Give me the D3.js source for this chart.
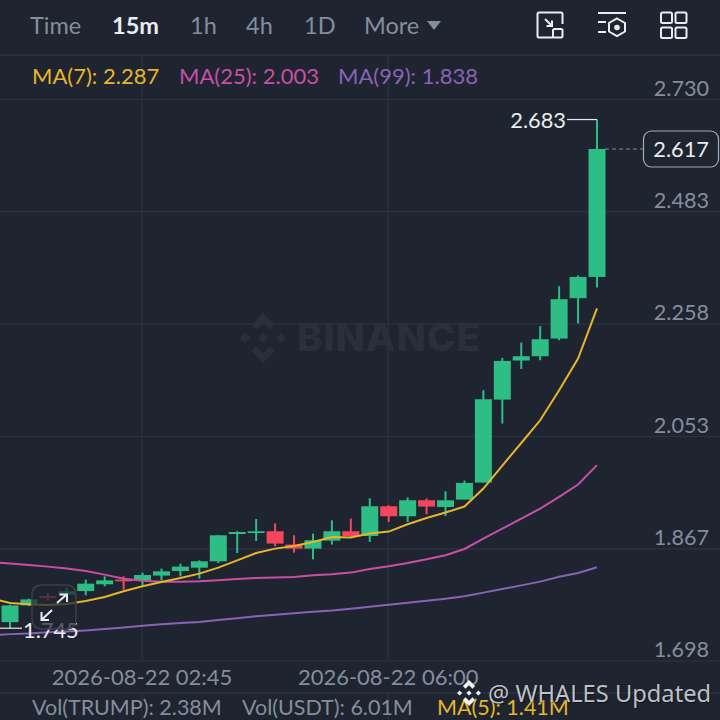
<!DOCTYPE html>
<html><head><meta charset="utf-8">
<script src="https://cdn.jsdelivr.net/npm/d3@7"></script>
<style>html,body{margin:0;padding:0;background:#1e2530}svg{display:block}</style>
</head><body><svg id="c" width="720" height="720"></svg>
<script>
const open_ = [1.754,1.779,1.7931,1.7952,1.8007,1.8110,1.8182,1.8171,1.8244,1.8315,1.8367,1.8466,1.8897,1.8913,1.8941,1.8729,1.8665,1.8792,1.8941,1.8865,1.9346,1.9183,1.9444,1.9334,1.9456,1.9738,2.1172,2.1883,2.1963,2.2294,2.3068,2.3487];
const close_ = [1.779,1.788,1.7901,1.8003,1.8120,1.8171,1.8156,1.8253,1.8310,1.8383,1.8466,1.8877,1.8929,1.8941,1.8745,1.8665,1.8797,1.8941,1.8865,1.9346,1.9183,1.9444,1.9341,1.9444,1.9731,2.1178,2.1876,2.1963,2.2281,2.3048,2.3487,2.617];
const high_ = [1.780,1.789,1.7977,1.8064,1.8182,1.8233,1.8233,1.8290,1.8352,1.8430,1.8481,1.8880,1.8941,1.9139,1.9069,1.8877,1.8904,1.9118,1.9145,1.9477,1.9362,1.9489,1.9472,1.9593,1.9771,2.1340,2.1931,2.2219,2.2528,2.3303,2.3515,2.683];
const low_ = [1.745,1.778,1.7866,1.7911,1.7942,1.8079,1.8029,1.8094,1.8171,1.8233,1.8197,1.8439,1.8596,1.8786,1.8702,1.8602,1.8497,1.8729,1.8850,1.8770,1.9090,1.9090,1.9215,1.9188,1.9456,1.9738,2.0747,2.1728,2.1889,2.2262,2.2579,2.3277];
// moving averages: first value belongs to the candle just off the left edge
const ma7 = [1.7896,1.7825,1.7806,1.7795,1.7810,1.7855,1.7916,1.8003,1.8079,1.8145,1.8206,1.8274,1.8367,1.8481,1.8596,1.8665,1.8706,1.8770,1.8850,1.8840,1.8904,1.8936,1.9053,1.9155,1.9243,1.9341,1.9638,2.0024,2.0409,2.0805,2.1340,2.1920,2.287];
const ma25 = [1.8458,1.8430,1.8408,1.8383,1.8352,1.8315,1.8259,1.8197,1.8166,1.8151,1.8151,1.8156,1.8171,1.8191,1.8206,1.8213,1.8222,1.8248,1.8264,1.8290,1.8346,1.8388,1.8439,1.8497,1.8560,1.8659,1.8824,1.8984,1.9145,1.9308,1.9499,1.9704,2.003];
const ma99 = [1.7349,1.7363,1.7374,1.7389,1.7403,1.7418,1.7437,1.7462,1.7487,1.7507,1.7526,1.7541,1.7571,1.7596,1.7626,1.7651,1.7671,1.7696,1.7715,1.7741,1.7771,1.7801,1.7831,1.7861,1.7892,1.7927,1.7983,1.8038,1.8094,1.8151,1.8227,1.8284,1.8372];
const priceTicks = [2.730,2.483,2.258,2.053,1.867,1.698];
const timeTickIdx = [7,20];
const timeTickLabels = ["2026-08-22 02:45","2026-08-22 06:00"];
const tabs = ["Time","15m","1h","4h","1D","More"];
const tabX = [30,112,190,246,304,364];
const maLegend = [["MA(7): 2.287",32,"#e8b52a"],["MA(25): 2.003",179,"#c94fa6"],["MA(99): 1.838",338,"#8a63b5"]];
const volLegend = [["Vol(TRUMP): 2.38M",32,"#848e9c"],["Vol(USDT): 6.01M",242,"#848e9c"],["MA(5): 1.41M",437,"#e8b52a"]];

const FONT = "Lato, Inter, sans-serif";
const GRID = "#2d333e", GREY = "#848e9c", UP = "#2ebd85", DOWN = "#f6465d";
const svg = d3.select("#c");
svg.append("rect").attr("width",720).attr("height",720).attr("fill","#1e2530");
const y = d3.scaleLog().domain([1.698,2.730]).range([660.5,99]);
const x = d3.scaleLinear().domain([0,31]).range([10,597]);
const defs = svg.append("defs");
defs.append("clipPath").attr("id","plot").append("rect").attr("x",0).attr("y",56).attr("width",720).attr("height",604);

// grid + axes
const gY = svg.append("g").attr("transform","translate(720,0)")
  .call(d3.axisLeft(y).tickValues(priceTicks).tickSize(720).tickFormat(""));
gY.select(".domain").remove();
gY.selectAll("line").attr("stroke",GRID).attr("stroke-width",1.2);
svg.append("g").selectAll("text").data(priceTicks).join("text")
  .attr("x",709).attr("y",d=>y(d)-3.5).attr("text-anchor","end")
  .attr("font-family",FONT).attr("font-size",21.6).attr("fill",GREY).text(d=>d.toFixed(3));
[55,693].forEach(v=>svg.append("line").attr("x1",0).attr("x2",720).attr("y1",v).attr("y2",v).attr("stroke",GRID).attr("stroke-width",1.5));
const vg = svg.append("g");
timeTickIdx.forEach(i=>{
  vg.append("line").attr("x1",x(i)-.5).attr("x2",x(i)-.5).attr("y1",56).attr("y2",660).attr("stroke",GRID).attr("stroke-width",1.2);
  vg.append("line").attr("x1",x(i)-.5).attr("x2",x(i)-.5).attr("y1",693).attr("y2",720).attr("stroke",GRID).attr("stroke-width",1.2);
});
svg.append("g").selectAll("text").data(timeTickIdx).join("text")
  .attr("x",d=>x(d)-.5).attr("y",685).attr("text-anchor","middle")
  .attr("font-family",FONT).attr("font-size",22).attr("fill",GREY)
  .text((d,i)=>timeTickLabels[i]);

// Binance watermark
function logo(g,cx,cy,r,fill){
  const P=[[[0,-1],[.47,-.53],[.27,-.33],[0,-.6],[-.27,-.33],[-.47,-.53]],
           [[0,1],[.47,.53],[.27,.33],[0,.6],[-.27,.33],[-.47,.53]],
           [[0,-.2],[.2,0],[0,.2],[-.2,0]],
           [[-.72,-.2],[-.52,0],[-.72,.2],[-.92,0]],
           [[.72,-.2],[.92,0],[.72,.2],[.52,0]]];
  g.selectAll(null).data(P).join("polygon")
    .attr("points",d=>d.map(p=>[cx+p[0]*r,cy+p[1]*r].join(",")).join(" ")).attr("fill",fill);
}
const wm = svg.append("g");
logo(wm,263,338,25,"#2a303b");
wm.append("text").attr("x",297).attr("y",351).attr("font-family","Inter, sans-serif").attr("font-weight",800)
  .attr("font-size",38).attr("letter-spacing",1.3).attr("fill","#2a303b").text("BINANCE");

// candles
const idx = d3.range(open_.length);
const plot = svg.append("g").attr("clip-path","url(#plot)");
const col = i=>close_[i]>=open_[i]?UP:DOWN;
plot.append("g").selectAll("line").data(idx).join("line")
  .attr("x1",i=>x(i)).attr("x2",i=>x(i)).attr("y1",i=>y(high_[i])).attr("y2",i=>y(low_[i]))
  .attr("stroke",col).attr("stroke-width",2);
plot.append("g").selectAll("rect").data(idx).join("rect")
  .attr("x",i=>x(i)-8.5).attr("width",17)
  .attr("y",i=>y(Math.max(open_[i],close_[i])))
  .attr("height",i=>Math.max(1.6,Math.abs(y(open_[i])-y(close_[i]))))
  .attr("fill",col);

// MA lines
const maLine = d3.line().x((d,i)=>x(i-1)).y(d=>y(d));
[[ma99,"#8a63b5"],[ma25,"#c94fa6"],[ma7,"#e8b52a"]].forEach(([s,c])=>{
  plot.append("path").attr("d",maLine(s)).attr("fill","none").attr("stroke",c).attr("stroke-width",2);
});

// tabs
svg.append("g").selectAll("text").data(tabs).join("text")
  .attr("x",(d,i)=>tabX[i]).attr("y",33.5).attr("font-family",FONT).attr("font-size",23.5)
  .attr("font-weight",(d,i)=>i==1?700:400).attr("fill",(d,i)=>i==1?"#eaecef":GREY).text(d=>d);
svg.append("polygon").attr("points","427,21 441,21 434,30").attr("fill",GREY);

// legends
svg.append("g").selectAll("text").data(maLegend).join("text")
  .attr("x",d=>d[1]).attr("y",83.5).attr("font-family",FONT).attr("font-size",22).attr("fill",d=>d[2]).text(d=>d[0]);
svg.append("g").selectAll("text").data(volLegend).join("text")
  .attr("x",d=>d[1]).attr("y",714.5).attr("font-family",FONT).attr("font-size",21.5).attr("fill",d=>d[2]).text(d=>d[0]);

// toolbar icons
const ic = svg.append("g").attr("fill","none").attr("stroke","#eaecef").attr("stroke-width",2);
ic.append("path").attr("d","M553 37.5H539a1.5 1.5 0 0 1-1.5-1.5V14a1.5 1.5 0 0 1 1.5-1.5H561a1.5 1.5 0 0 1 1.5 1.5V24");
ic.append("rect").attr("x",553).attr("y",29).attr("width",9.5).attr("height",8.5).attr("rx",1.5);
ic.append("path").attr("d","M545 19L552 26M552 20.5V26H546.5");
ic.append("path").attr("d","M598 13H626M598 22H606M598 32H606");
ic.append("path").attr("d","M617 18.5L625 23V31.5L617 36L609 31.5V23Z");
ic.append("circle").attr("cx",617).attr("cy",27.5).attr("r",1.8).attr("fill","#eaecef");
[[661,12.5],[675.5,12.5],[661,27.5],[675.5,27.5]].forEach(p=>
  ic.append("rect").attr("x",p[0]).attr("y",p[1]).attr("width",11).attr("height",10.5).attr("rx",1.5));

// price annotations
const ann = svg.append("g").attr("font-family",FONT).attr("font-size",21.8).attr("fill","#eaecef");
const maxI = 31, minI = 0;
ann.append("line").attr("x1",567).attr("x2",x(maxI)).attr("y1",y(high_[maxI])).attr("y2",y(high_[maxI])).attr("stroke","#eaecef").attr("stroke-width",1.2);
ann.append("text").attr("x",566).attr("y",y(high_[maxI])+8).attr("text-anchor","end").text(high_[maxI].toFixed(3));
ann.append("line").attr("x1",0).attr("x2",22).attr("y1",y(low_[minI])).attr("y2",y(low_[minI])).attr("stroke","#eaecef").attr("stroke-width",1.2);
ann.append("text").attr("x",23).attr("y",y(low_[minI])+9.5).text(low_[minI].toFixed(3));
ann.append("line").attr("x1",605).attr("x2",643).attr("y1",y(close_[maxI])).attr("y2",y(close_[maxI])).attr("stroke",GREY).attr("stroke-width",1.2).attr("stroke-dasharray","4 3");
ann.append("rect").attr("x",643.5).attr("y",131).attr("width",75).attr("height",36).attr("rx",8).attr("fill","#1e2530").attr("stroke","#a6acb5").attr("stroke-width",1.2);
ann.append("text").attr("x",709).attr("y",y(close_[maxI])+8).attr("text-anchor","end").text(close_[maxI].toFixed(3));

// expand button
const btn = svg.append("g");
btn.append("rect").attr("x",32).attr("y",585).attr("width",44).attr("height",44).attr("rx",9)
  .attr("fill","#1e2530").attr("fill-opacity",.72).attr("stroke","#3a404c").attr("stroke-width",1.5);
btn.append("path").attr("d","M57 603L66 595M59.5 594.5H67V602M52 610L42.5 619M41.5 612V620H49")
  .attr("fill","none").attr("stroke","#eaecef").attr("stroke-width",2);

// overlay watermark
const ov = svg.append("g");
logo(ov,469,693,13,"#eef0f2");
ov.append("text").attr("x",488).attr("y",702).attr("font-family","'Noto Sans', sans-serif").attr("font-size",23.7)
  .attr("fill","#c9ccd1").attr("fill-opacity",.95).attr("style","text-shadow:1px 1px 1px rgba(0,0,0,.5)").text("@ WHALES Updated");
</script></body></html>
